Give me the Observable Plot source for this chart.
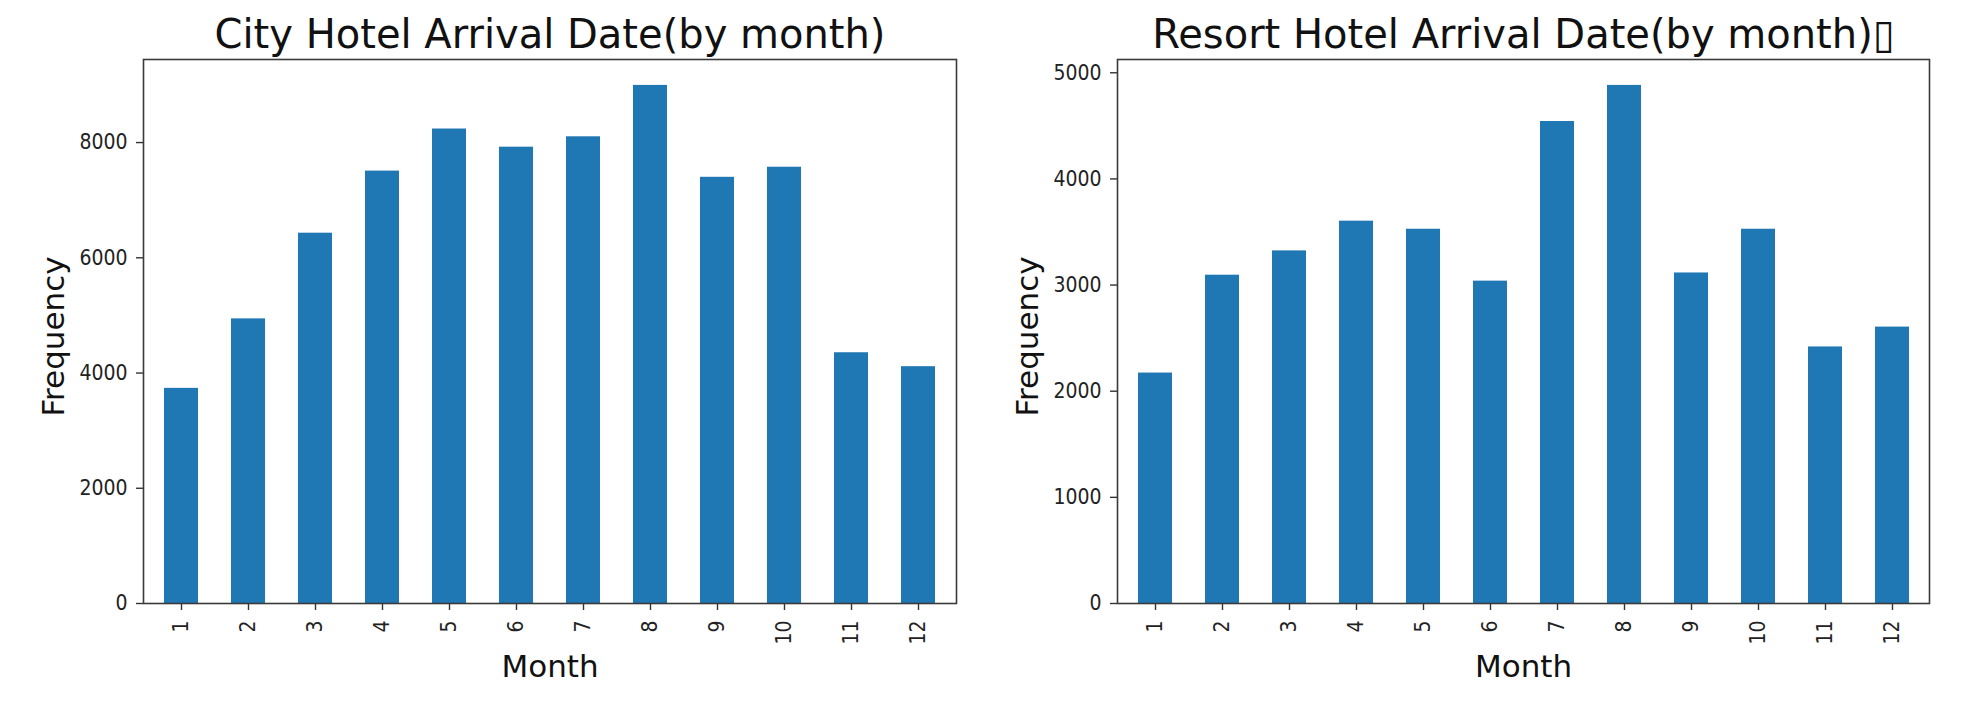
<!DOCTYPE html>
<html>
<head>
<meta charset="utf-8">
<script src="https://cdn.jsdelivr.net/npm/d3@7"></script>
<script src="https://cdn.jsdelivr.net/npm/@observablehq/plot@0.6"></script>
<style>
  html, body { margin: 0; padding: 0; background: #fff; }
  #wrap { position: relative; width: 1976px; height: 708px; overflow: hidden; }
  .panel { position: absolute; top: 0; width: 988px; height: 708px; }
  #left { left: 0; }
  #right { left: 988px; }
</style>
</head>
<body>
<div id="wrap">
  <div class="panel" id="left"></div>
  <div class="panel" id="right"></div>
</div>
<script>
const months = [1, 2, 3, 4, 5, 6, 7, 8, 9, 10, 11, 12];
const cityCounts = [3734, 4940, 6427, 7505, 8235, 7920, 8100, 8992, 7397, 7572, 4352, 4110];
const resortCounts = [2171, 3093, 3322, 3602, 3526, 3037, 4541, 4881, 3114, 3526, 2417, 2604];
const cityTicks = [0, 2000, 4000, 6000, 8000];
const resortTicks = [0, 1000, 2000, 3000, 4000, 5000];
const titles = ["City Hotel Arrival Date(by month)", "Resort Hotel Arrival Date(by month)\u25AF"];
const xLabel = "Month";
const yLabel = "Frequency";

const barColor = "#1f77b4";
const inkColor = "#222";
const titleFont = "DejaVu Sans";
const tickFont = "'DejaVu Sans Condensed', 'Liberation Sans', sans-serif";

function panel(counts, ticks, title, marginLeft, marginRight) {
  const data = months.map((m, i) => ({month: m, count: counts[i]}));
  const ymax = d3.max(counts) * 1.05;
  return Plot.plot({
    width: 988,
    height: 708,
    marginLeft,
    marginRight,
    marginTop: 59,
    marginBottom: 105,
    style: {fontFamily: tickFont, color: inkColor, background: "#fff", overflow: "visible"},
    x: {type: "band", domain: months, paddingInner: 0.5, paddingOuter: 0.25, label: null},
    y: {domain: [0, ymax], label: null},
    marks: [
      Plot.barY(data, {x: "month", y: "count", fill: barColor}),
      Plot.axisY({ticks, tickFormat: d3.format("d"), tickSize: 7, tickPadding: 9, fontSize: 21, stroke: "#333", strokeWidth: 1.4, fill: inkColor, label: null}),
      Plot.axisX({tickRotate: -90, tickSize: 7, tickPadding: 10, fontSize: 21, stroke: "#333", strokeWidth: 1.4, fill: inkColor, label: null}),
      Plot.frame({stroke: "#3a3a3a", strokeWidth: 1.6}),
      Plot.text([title], {frameAnchor: "top", textAnchor: "middle", lineAnchor: "bottom", dy: -12, fontSize: 40, fontFamily: titleFont, fill: "#111", text: d => d}),
      Plot.text([xLabel], {frameAnchor: "bottom", textAnchor: "middle", lineAnchor: "bottom", dy: 73, fontSize: 31, fontFamily: titleFont, fill: "#111", text: d => d}),
      Plot.text([yLabel], {frameAnchor: "left", textAnchor: "middle", lineAnchor: "bottom", rotate: -90, dx: -80, dy: 5, fontSize: 31, fontFamily: titleFont, fill: "#111", text: d => d})
    ]
  });
}

document.getElementById("left").append(panel(cityCounts, cityTicks, titles[0], 143, 32));
document.getElementById("right").append(panel(resortCounts, resortTicks, titles[1], 129, 47));
</script>
</body>
</html>
